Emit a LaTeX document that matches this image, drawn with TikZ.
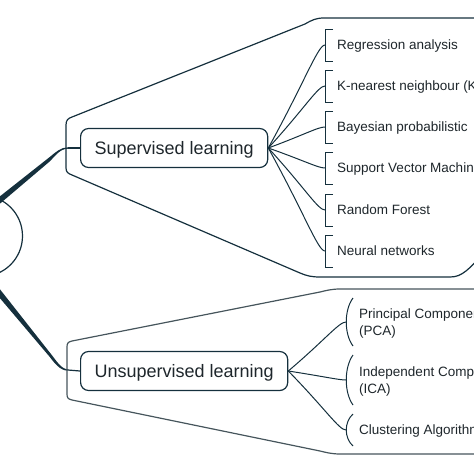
\documentclass[tikz,border=0pt]{standalone}
\usepackage{fontspec}
\setmainfont{Liberation Sans}
\usetikzlibrary{calc}

\definecolor{mapline}{HTML}{15303D}
\definecolor{mapgrey}{HTML}{46555C}
\definecolor{maptext}{HTML}{1E262B}

\tikzset{
  topic/.style={draw=mapline, line width=1.2pt, rounded corners=8pt, anchor=west,
    minimum height=39pt, inner xsep=14pt, text height=13pt, text depth=0pt,
    font=\fontsize{18}{20}\selectfont, text=maptext},
  leaf/.style={anchor=base west, inner sep=0pt, font=\fontsize{13.5}{17}\selectfont, text=maptext},
  leaftwo/.style={anchor=west, inner sep=0pt, align=left, font=\fontsize{13.5}{17}\selectfont, text=maptext},
  twig/.style={draw=mapline, line width=1pt},
  boundary/.style={draw=mapline, line width=1.2pt},
}

\begin{document}
\begin{tikzpicture}[x=1pt,y=-1pt]
\useasboundingbox (0,0) rectangle (474,474);
\clip (0,0) rectangle (474,474);

% 1. Root (mostly out of frame) and the two main topics
\node[circle, draw=mapline, line width=1.2pt, minimum size=81pt] (root) at (-18,236) {};
\node[topic] (sup) at (80,148) {Supervised learning};
\node[topic] (unsup) at (80,371) {Unsupervised learning};

% 2. Thick tapered branches from the root
\coordinate (supjoin) at (68,148);
\coordinate (unsupjoin) at (68,370);
\fill[mapline] (-8,202.6) -- (50,156.8) .. controls (56,151.8) and (61,147.3) .. (68,147.3)
  -- (68,148.7) .. controls (60,148.7) and (55,156) .. (50,161.2) -- (-8,210.4) -- cycle;
\fill[mapline] (-8,279.2) -- (50,352.8) .. controls (56,360) and (61,369.3) .. (68,369.3)
  -- (68,370.7) .. controls (60,370.7) and (54,362.5) .. (50,357.2) -- (-8,288.8) -- cycle;
\draw[boundary] (supjoin) -- (sup.west);
\draw[boundary] (unsupjoin) -- (unsup.west);

% 3. Boundaries around the two groups
\draw[boundary] (500,18) -- (324,18) .. controls (316,18) and (312,20) .. (305,24)
  -- (72,117) .. controls (68,118.5) and (66,120) .. (66,125) -- (66,168)
  .. controls (66,172) and (68,173.5) .. (72,175) -- (300,273)
  .. controls (307,276) and (312,277) .. (320,277) -- (450,277)
  .. controls (462,277) and (468,270) .. (485,252);
\draw[boundary, draw=mapgrey] (500,289) -- (340,289) .. controls (332,289) and (326,290.5) .. (320,292)
  -- (72,341) .. controls (68,342) and (67,343) .. (67,347) -- (67,394)
  .. controls (67,398) and (68,399) .. (72,400) -- (320,451)
  .. controls (326,452.5) and (332,454) .. (340,454) -- (500,454);

% 4. Supervised leaves with square brackets
\foreach \name/\y/\txt in {reg/45/Regression analysis, knn/86/K-nearest neighbour (KNN),
    bay/127/Bayesian probabilistic, svm/168/Support Vector Machine (SVM),
    rf/210/Random Forest, nn/251/Neural networks}{
  \node[leaf] (\name) at (337,\y+4.8) {\txt};
  \coordinate (\name-b) at (325,\y);
  \draw[twig] (333,\y-16) -- (325,\y-16) -- (325,\y+16) -- (333,\y+16);
  \draw[twig] (sup.east) .. controls ($(sup.east)!0.65!(\name-b)$) and ($(\name-b)+(-7,0)$) .. (\name-b);
}

% 5. Unsupervised leaves with round brackets
\foreach \name/\y/\h/\ty/\txt in {pca/322/24/324/{Principal Component Analysis\\(PCA)},
    ica/380/25/382/{Independent Component Analysis\\(ICA)},
    clu/430/16/431.4/Clustering Algorithms}{
  \node[leaftwo] (\name) at (359,\ty) {\txt};
  \coordinate (\name-b) at (346,\y);
  \draw[twig] (353,\y-\h) .. controls (344,\y-\h/2) and (344,\y+\h/2) .. (353,\y+\h);
  \draw[twig] (unsup.east) .. controls ($(unsup.east)!0.65!(\name-b)$) and ($(\name-b)+(-7,0)$) .. (\name-b);
}

\end{tikzpicture}
\end{document}
